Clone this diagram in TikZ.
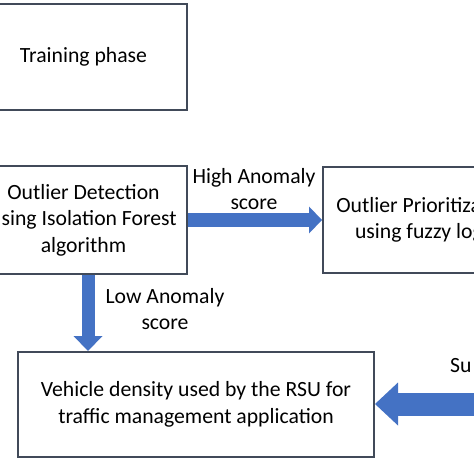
\documentclass[tikz,border=0pt]{standalone}
\usepackage{fontspec}
\setmainfont{Carlito}
\usetikzlibrary{arrows.meta}
\definecolor{boxline}{HTML}{414A59}
\definecolor{flowblue}{HTML}{4472C4}
\tikzset{
  box/.style={draw=boxline, line width=2bp, align=center, inner sep=0pt},
  flow/.style={draw=flowblue, line width=#1},
  lbl/.style={align=center, inner sep=0pt},
}
\begin{document}
\begin{tikzpicture}[x=1bp, y=-1bp, font=\fontsize{21.7bp}{26.5bp}\selectfont]
      \useasboundingbox (0,0) rectangle (474,474);
      \draw
        (83.5,57) node[box, minimum width=207bp, minimum height=106bp] (train){Training phase}
        (83.5,220) node[box, minimum width=207bp, minimum height=107bp] (detect){Outlier Detection\\using Isolation Forest\\algorithm}
        (426,220) node[box, minimum width=206bp, minimum height=105bp] (prior){Outlier Prioritization\\using fuzzy logic}
        (196,404.5) node[box, minimum width=356bp, minimum height=105bp] (vehicle){Vehicle density used by the RSU for\\traffic management application};
      \draw
        (254,189) node[lbl] (high){High Anomaly\\score}
        (165,309) node[lbl] (low){Low Anomaly\\score}
        (450,366) node[lbl, anchor=west] (su){Su};
      \coordinate (lowx) at (88,0);
      \coordinate (susp) at (540,404);
      \begin{scope}[line cap=butt]
        \draw[flow=14bp, -{Triangle[length=13bp, width=27bp, line width=0pt]}] (detect.east) to (detect.east -| prior.west);
        \draw[flow=13bp, -{Triangle[length=15bp, width=29bp, line width=0pt]}] (detect.south -| lowx) to (vehicle.north -| lowx);
        \draw[flow=23bp, -{Triangle[length=23bp, width=43bp, line width=0pt]}] (susp) to (vehicle.east |- susp);
      \end{scope}
    \end{tikzpicture}
\end{document}
